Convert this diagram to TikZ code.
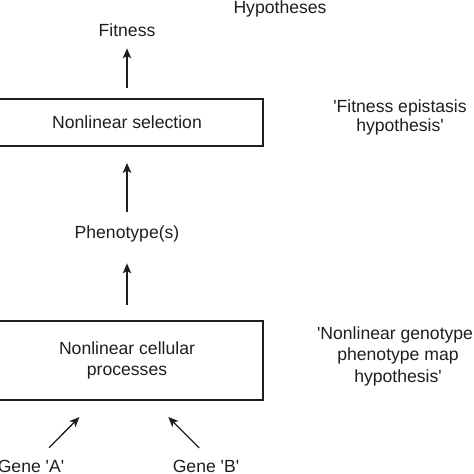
\documentclass[tikz,border=0pt]{standalone}
\usepackage{fontspec}
\setmainfont{Liberation Sans}
\usetikzlibrary{arrows.meta}
\definecolor{ink}{HTML}{1E1E1E}
\begin{document}
\begin{tikzpicture}[x=1pt,y=-1pt,
  every node/.style={text=ink, font=\fontsize{17.6}{21.5}\selectfont, inner sep=0pt},
  lbl/.style={anchor=base},
  boxnode/.style={draw=ink, line width=2pt, inner sep=0pt, align=center, minimum width=272pt},
  arr/.style={draw=ink, line width=1.3pt, -{Stealth[length=10pt,width=8.5pt,inset=2.5pt]}}]
\useasboundingbox (0,0) rectangle (474,474);
\clip (0,0) rectangle (474,474);
% left column
\node[lbl] (fit) at (127,36) {Fitness};
\node[boxnode, minimum height=47pt] (sel) at (127,122.5) {Nonlinear selection};
\node[lbl] (phen) at (127,238.5) {Phenotype(s)};
\node[boxnode, minimum height=79pt] (cell) at (127,360.5) {Nonlinear cellular\\processes};
\node[lbl] (geneA) at (31,472) {Gene \textquotesingle A\textquotesingle};
\node[lbl] (geneB) at (206,472) {Gene \textquotesingle B\textquotesingle};
% right column
\node[lbl] (hyp) at (280,13.5) {Hypotheses};
\node[align=center, font=\fontsize{17.6}{18.5}\selectfont] (fep) at (400,117.2)
  {\textquotesingle Fitness epistasis\\hypothesis\textquotesingle};
\node[align=center] (gpm) at (398,356.3)
  {\textquotesingle Nonlinear genotype\phantom{-}\\phenotype map\\hypothesis\textquotesingle};
% connectors
\draw[arr, shorten <=10pt, shorten >=12pt] (sel) -- (fit);
\draw[arr, shorten <=14pt, shorten >=16pt] (phen) -- (sel);
\draw[arr, shorten <=15pt, shorten >=21pt] (cell) -- (phen);
\draw[arr, shorten <=16.7pt, shorten >=22.6pt] (geneA) -- (cell.232);
\draw[arr, shorten <=16.4pt, shorten >=22.6pt] (geneB.53) -- (cell.302);
\end{tikzpicture}
\end{document}
